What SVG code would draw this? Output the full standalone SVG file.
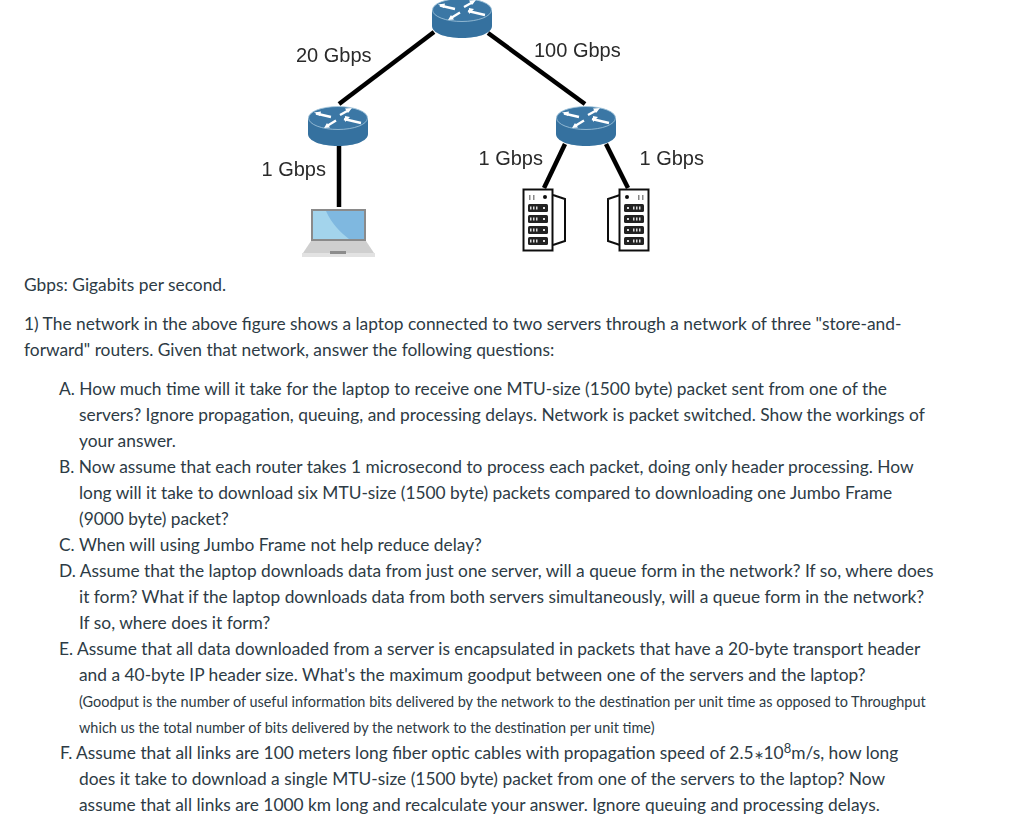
<svg xmlns="http://www.w3.org/2000/svg" xmlns:xlink="http://www.w3.org/1999/xlink" width="1024" height="828" viewBox="0 0 1024 828">
<style>
.lbl{font-family:"Liberation Sans",Arial,sans-serif;font-size:20px;fill:#2b2b2b}
.t{font-family:Lato,"Liberation Sans",sans-serif;font-size:17.35px;fill:#2d3b45}
.s{font-family:Lato,"Liberation Sans",sans-serif;font-size:14.46px;fill:#2d3b45}
.link{stroke:#000;stroke-width:4.5;fill:none}
.rk{fill:#222;stroke:none}
.arr{stroke:#fff;stroke-width:2.4;fill:none}
</style>
<defs>
<filter id="soft" x="-10%" y="-10%" width="120%" height="120%"><feGaussianBlur stdDeviation="0.5"/></filter>
<g id="router">
<path d="M0 12V28C0 35 13 40 30 40S60 35 60 28V12Z" fill="#35719f"/>
<ellipse cx="30" cy="12" rx="29.500" ry="11.500" fill="#3b77a5" stroke="#a6c8dd" stroke-width="0.8"/>
<path class="arr" d="M8 7.500L23 11M32 9L41 4M36 13L53 17M28 14.500L19 20"/>
<path d="M6 6.500L13 5.500L12 10ZM44 2L37 2.500L40 7ZM37 10L42 11L37 16ZM16 22L22 21.500L19 17Z" fill="#fff"/>
</g>
<g id="rack">
<rect x="-10" y="0" width="20" height="8" rx="1.500" class="rk"/>
</g>
</defs>
<g filter="url(#soft)">
<g id="connectors">
<line class="link" x1="434" y1="32" x2="339" y2="104"/>
<line class="link" x1="488" y1="33" x2="585" y2="104"/>
<line class="link" x1="339" y1="146" x2="339" y2="207"/>
<line class="link" x1="565" y1="144" x2="544" y2="188"/>
<line class="link" x1="606" y1="144" x2="628" y2="188"/>
</g>
<g id="router-top"><use href="#router" x="432" y="-2"/></g>
<g id="router-left"><use href="#router" x="308" y="106"/></g>
<g id="router-right"><use href="#router" x="556" y="106"/></g>
<g id="laptop">
<rect x="311" y="209" width="55" height="32" fill="#8a8a8a"/>
<rect x="313" y="211" width="51" height="28" fill="#7fb8e0"/>
<path d="M313 211H326C332 224 340 232 349 239H313Z" fill="#a3d4ec"/>
<path d="M311 241H366L374 253H303Z" fill="#cfcfcf"/>
<rect x="302" y="253" width="73" height="4" fill="#e2e2e2"/>
<rect x="330" y="251" width="16" height="3" fill="#8c8c8c"/>
</g>
<g id="server-left">
<path d="M553 195L565 199V241L553 245" fill="#fff" stroke="#111" stroke-width="2"/>
<rect x="523.500" y="189.500" width="29" height="61" fill="#fff" stroke="#111" stroke-width="2"/>
<circle cx="545" cy="197" r="2" fill="#111"/>
<rect x="529" y="195" width="1.500" height="5" fill="#888"/><rect x="533" y="195" width="1.500" height="5" fill="#888"/>
<use href="#rack" x="538" y="204"/><use href="#rack" x="538" y="215"/><use href="#rack" x="538" y="226"/><use href="#rack" x="538" y="237"/>
<g fill="#ddd"><rect x="530" y="206.500" width="1.500" height="3"/><rect x="533" y="206.500" width="1.500" height="3"/><rect x="536" y="206.500" width="1.500" height="3"/><rect x="543" y="207" width="2" height="2"/>
<rect x="530" y="217.500" width="1.500" height="3"/><rect x="533" y="217.500" width="1.500" height="3"/><rect x="536" y="217.500" width="1.500" height="3"/><rect x="543" y="218" width="2" height="2"/>
<rect x="530" y="228.500" width="1.500" height="3"/><rect x="533" y="228.500" width="1.500" height="3"/><rect x="536" y="228.500" width="1.500" height="3"/><rect x="543" y="229" width="2" height="2"/>
<rect x="530" y="239.500" width="1.500" height="3"/><rect x="533" y="239.500" width="1.500" height="3"/><rect x="536" y="239.500" width="1.500" height="3"/><rect x="543" y="240" width="2" height="2"/></g>
</g>
<g id="server-right">
<path d="M620 195L608 199V241L620 245" fill="#fff" stroke="#111" stroke-width="2"/>
<rect x="619.500" y="189.500" width="29" height="61" fill="#fff" stroke="#111" stroke-width="2"/>
<circle cx="627" cy="197" r="2" fill="#111"/>
<rect x="638" y="195" width="1.500" height="5" fill="#888"/><rect x="642" y="195" width="1.500" height="5" fill="#888"/>
<use href="#rack" x="634" y="204"/><use href="#rack" x="634" y="215"/><use href="#rack" x="634" y="226"/><use href="#rack" x="634" y="237"/>
<g fill="#ddd"><rect x="627" y="207" width="2" height="2"/><rect x="633" y="206.500" width="1.500" height="3"/><rect x="636" y="206.500" width="1.500" height="3"/><rect x="639" y="206.500" width="1.500" height="3"/>
<rect x="627" y="218" width="2" height="2"/><rect x="633" y="217.500" width="1.500" height="3"/><rect x="636" y="217.500" width="1.500" height="3"/><rect x="639" y="217.500" width="1.500" height="3"/>
<rect x="627" y="229" width="2" height="2"/><rect x="633" y="228.500" width="1.500" height="3"/><rect x="636" y="228.500" width="1.500" height="3"/><rect x="639" y="228.500" width="1.500" height="3"/>
<rect x="627" y="240" width="2" height="2"/><rect x="633" y="239.500" width="1.500" height="3"/><rect x="636" y="239.500" width="1.500" height="3"/><rect x="639" y="239.500" width="1.500" height="3"/></g>
</g>
<g id="labels">
<text class="lbl" x="296" y="62">20 Gbps</text>
<text class="lbl" x="534" y="57">100 Gbps</text>
<text class="lbl" x="261.500" y="176">1 Gbps</text>
<text class="lbl" x="478.500" y="165">1 Gbps</text>
<text class="lbl" x="639.500" y="165">1 Gbps</text>
</g>
</g>
<g id="question-text">
<text class="t" x="24" y="291">Gbps: Gigabits per second.</text>
<text class="t" x="24" y="330">1) The network in the above figure shows a laptop connected to two servers through a network of three "store-and-</text>
<text class="t" x="24" y="356">forward" routers. Given that network, answer the following questions:</text>
<text class="t" x="59" y="395">A. How much time will it take for the laptop to receive one MTU-size (1500 byte) packet sent from one of the</text>
<text class="t" x="79" y="421">servers? Ignore propagation, queuing, and processing delays. Network is packet switched. Show the workings of</text>
<text class="t" x="79" y="447">your answer.</text>
<text class="t" x="59" y="473">B. Now assume that each router takes 1 microsecond to process each packet, doing only header processing. How</text>
<text class="t" x="79" y="499">long will it take to download six MTU-size (1500 byte) packets compared to downloading one Jumbo Frame</text>
<text class="t" x="79" y="525">(9000 byte) packet?</text>
<text class="t" x="59" y="551">C. When will using Jumbo Frame not help reduce delay?</text>
<text class="t" x="59" y="577">D. Assume that the laptop downloads data from just one server, will a queue form in the network? If so, where does</text>
<text class="t" x="79" y="603">it form? What if the laptop downloads data from both servers simultaneously, will a queue form in the network?</text>
<text class="t" x="79" y="629">If so, where does it form?</text>
<text class="t" x="59" y="655">E. Assume that all data downloaded from a server is encapsulated in packets that have a 20-byte transport header</text>
<text class="t" x="79" y="681">and a 40-byte IP header size. What's the maximum goodput between one of the servers and the laptop?</text>
<text class="s" x="79" y="707">(Goodput is the number of useful information bits delivered by the network to the destination per unit time as opposed to Throughput</text>
<text class="s" x="79" y="733">which us the total number of bits delivered by the network to the destination per unit time)</text>
<text class="t" x="60" y="759">F. Assume that all links are 100 meters long fiber optic cables with propagation speed of 2.5<tspan font-size="12">∗</tspan>10<tspan dy="-6" font-size="13">8</tspan><tspan dy="6">m/s, how long</tspan></text>
<text class="t" x="79" y="785">does it take to download a single MTU-size (1500 byte) packet from one of the servers to the laptop? Now</text>
<text class="t" x="79" y="811">assume that all links are 1000 km long and recalculate your answer. Ignore queuing and processing delays.</text>
</g>
</svg>
